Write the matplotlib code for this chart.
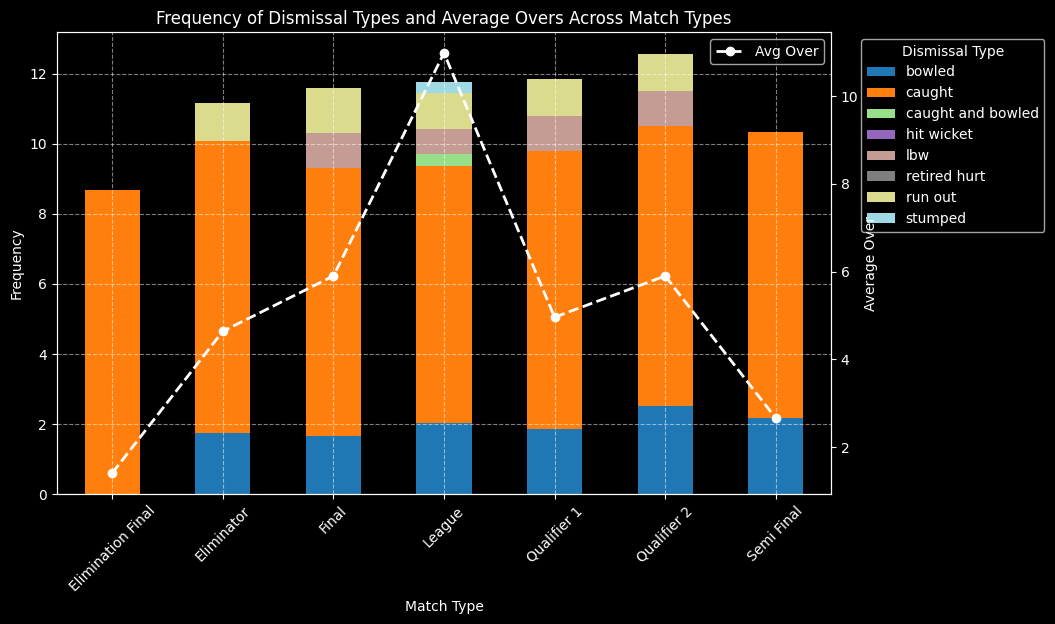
import numpy as np
import matplotlib
matplotlib.use("Agg")
import matplotlib.pyplot as plt

plt.style.use("dark_background")

match_types = ["Elimination Final", "Eliminator", "Final", "League",
               "Qualifier 1", "Qualifier 2", "Semi Final"]
dismissal_types = ["bowled", "caught", "caught and bowled", "hit wicket",
                   "lbw", "retired hurt", "run out", "stumped"]

bowled = [0.0, 1.74, 1.67, 2.02, 1.87, 2.51, 2.17]
caught = [8.69, 8.35, 7.65, 7.35, 7.93, 8.00, 8.17]
caught_and_bowled = [0.0, 0.0, 0.0, 0.34, 0.0, 0.0, 0.0]
hit_wicket = [0.0, 0.0, 0.0, 0.0, 0.0, 0.0, 0.0]
lbw = [0.0, 0.0, 0.99, 0.72, 1.00, 1.00, 0.0]
retired_hurt = [0.0, 0.0, 0.0, 0.0, 0.0, 0.0, 0.0]
run_out = [0.0, 1.09, 1.29, 1.03, 1.06, 1.06, 0.0]
stumped = [0.0, 0.0, 0.0, 0.31, 0.0, 0.0, 0.0]

avg_over = [1.41, 4.64, 5.90, 10.98, 4.96, 5.90, 2.66]

series = [bowled, caught, caught_and_bowled, hit_wicket,
          lbw, retired_hurt, run_out, stumped]
# tab20 sampled at 8 points, as pandas does
colors = ["#1f77b4", "#ff7f0e", "#98df8a", "#9467bd",
          "#c49c94", "#7f7f7f", "#dbdb8d", "#9edae5"]

fig, ax = plt.subplots(figsize=(10.55, 6.24), dpi=100)
fig.subplots_adjust(left=0.054, right=0.7877, bottom=0.2083, top=0.9487)

x = np.arange(len(match_types))
bottom = np.zeros(len(match_types))
for name, vals, c in zip(dismissal_types, series, colors):
    ax.bar(x, vals, 0.5, bottom=bottom, color=c, label=name)
    bottom += np.array(vals)

ax.set_xlim(-0.5, len(match_types) - 0.5)
ax.set_ylim(0, bottom.max() * 1.05)
ax.set_xticks(x)
ax.set_xticklabels(match_types, rotation=45)
ax.set_xlabel("Match Type")
ax.set_ylabel("Frequency")
ax.set_title("Frequency of Dismissal Types and Average Overs Across Match Types")
ax.grid(True, linestyle="--", alpha=0.5)
ax.legend(title="Dismissal Type", bbox_to_anchor=(1.03, 1), loc="upper left")

ax2 = ax.twinx()
ax2.plot(x, avg_over, color="white", linestyle="--", marker="o",
         linewidth=2, label="Avg Over")
ax2.set_ylabel("Average Over")
ax2.legend(loc="upper right")

fig.savefig("out.png", dpi=100)
